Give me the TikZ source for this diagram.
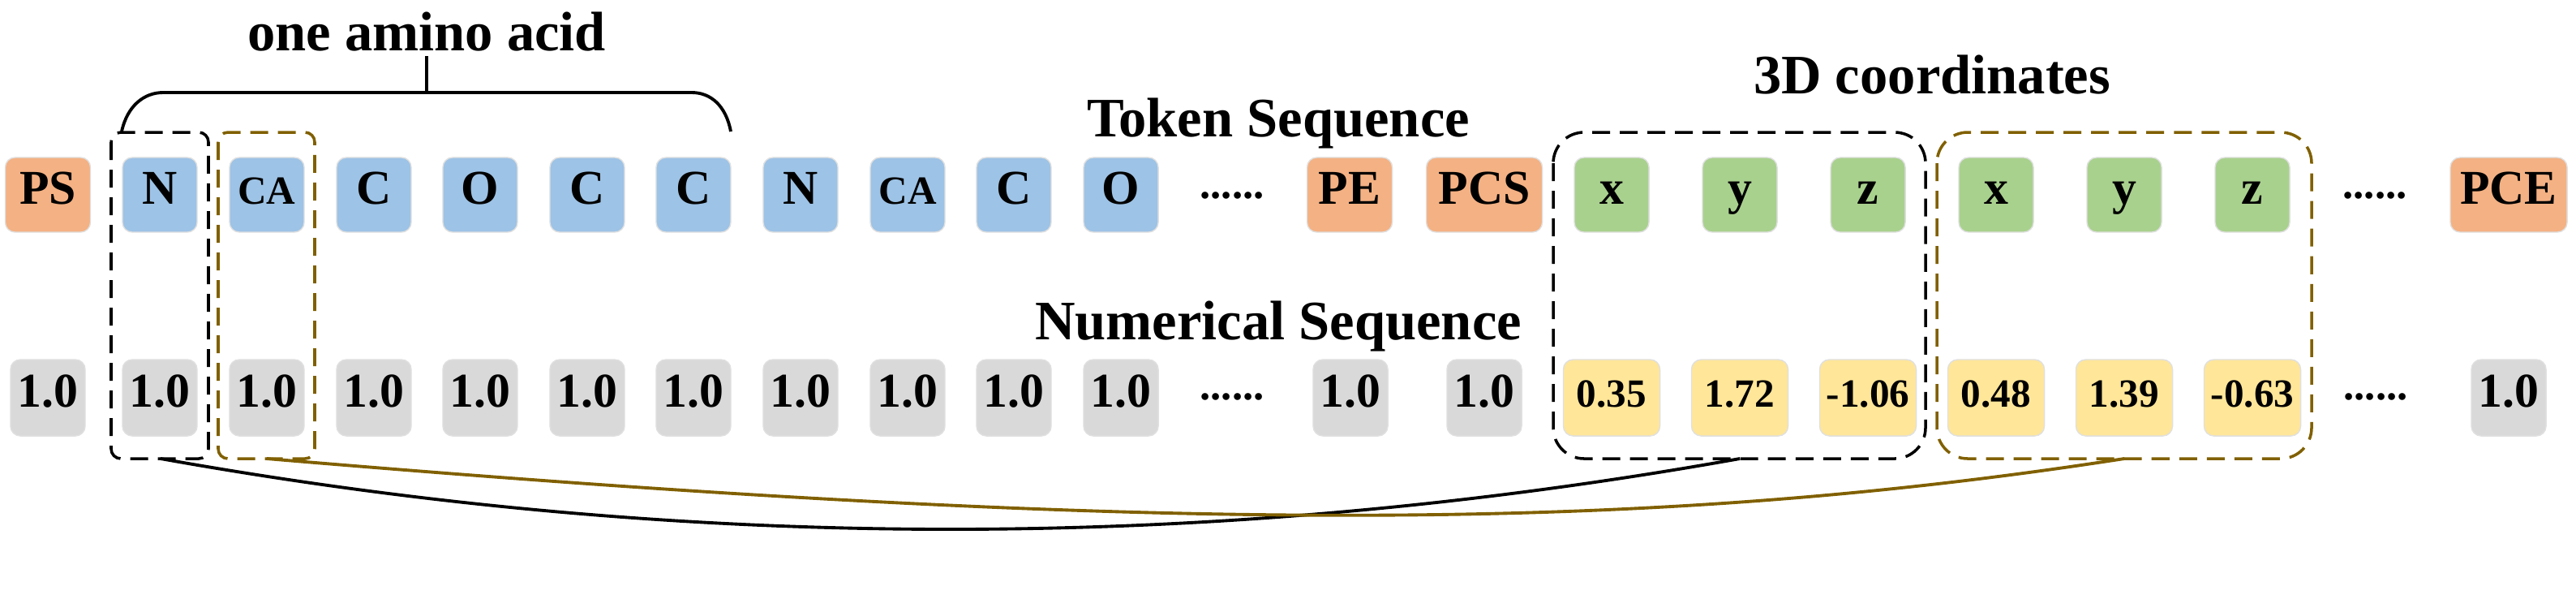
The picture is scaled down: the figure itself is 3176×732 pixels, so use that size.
\documentclass[tikz,border=0pt]{standalone}
\usepackage{fontspec}
\setmainfont{Liberation Serif}
\definecolor{tokorange}{HTML}{F4B183}
\definecolor{tokblue}{HTML}{9DC3E6}
\definecolor{tokgreen}{HTML}{A9D18E}
\definecolor{numgray}{HTML}{D9D9D9}
\definecolor{numyellow}{HTML}{FFE699}
\definecolor{groupbrown}{HTML}{806000}
\tikzset{
  tok/.style={rounded corners=0.12cm, draw=black!12, line width=0.4pt,
    minimum width=0.92cm, minimum height=0.92cm, inner sep=0pt,
    font=\fontsize{17}{17}\selectfont\bfseries, text height=0.66em, text depth=0pt},
  num/.style={tok, minimum height=0.94cm},
  smalltxt/.style={font=\fontsize{14}{14}\selectfont\bfseries},
  seqtitle/.style={anchor=base, inner sep=0pt, font=\fontsize{19.5}{19.5}\selectfont\bfseries},
  ellip/.style={anchor=base, inner sep=0pt, font=\fontsize{15}{15}\selectfont\bfseries},
  dashgroup/.style={line width=1pt, dash pattern=on 0.22cm off 0.12cm},
}

\begin{document}
\begin{tikzpicture}[x=0.01cm, y=-0.01cm]
\useasboundingbox (0,0) rectangle (3176,732);
% token row
\foreach \i/\x/\lab/\col/\w/\sty in {1/59/PS/tokorange/1.05/, 2/197/N/tokblue/0.92/,
    3/329/CA/tokblue/0.92/smalltxt, 4/461/C/tokblue/0.92/, 5/592/O/tokblue/0.92/,
    6/724/C/tokblue/0.92/, 7/855/C/tokblue/0.92/, 8/987/N/tokblue/0.92/,
    9/1119/CA/tokblue/0.92/smalltxt, 10/1250/C/tokblue/0.92/, 11/1382/O/tokblue/0.92/,
    12/1664/PE/tokorange/1.05/, 13/1830/PCS/tokorange/1.43/,
    14/1987/x/tokgreen/0.92/, 15/2145/y/tokgreen/0.92/, 16/2303/z/tokgreen/0.92/,
    17/2461/x/tokgreen/0.92/, 18/2619/y/tokgreen/0.92/, 19/2777/z/tokgreen/0.92/,
    20/3093/PCE/tokorange/1.44/}
  \node[tok, fill=\col, minimum width=\w cm, \sty] (t\i) at (\x,240) {\lab};
% numerical row
\foreach \i/\x/\lab/\col/\w/\sty in {1/59/1.0/numgray/0.92/, 2/197/1.0/numgray/0.92/,
    3/329/1.0/numgray/0.92/, 4/461/1.0/numgray/0.92/, 5/592/1.0/numgray/0.92/,
    6/724/1.0/numgray/0.92/, 7/855/1.0/numgray/0.92/, 8/987/1.0/numgray/0.92/,
    9/1119/1.0/numgray/0.92/, 10/1250/1.0/numgray/0.92/, 11/1382/1.0/numgray/0.92/,
    12/1665/1.0/numgray/0.92/, 13/1830/1.0/numgray/0.92/,
    14/1987/0.35/numyellow/1.19/smalltxt, 15/2145/1.72/numyellow/1.19/smalltxt,
    16/2303/-1.06/numyellow/1.19/smalltxt, 17/2461/0.48/numyellow/1.19/smalltxt,
    18/2619/1.39/numyellow/1.19/smalltxt, 19/2777/-0.63/numyellow/1.19/smalltxt,
    20/3093/1.0/numgray/0.92/}
  \node[num, fill=\col, minimum width=\w cm, \sty] (b\i) at (\x,490) {\lab};
% ellipses
\node[ellip] (tdots1) at (1519,244) {......};
\node[ellip] (tdots2) at (2928,244) {......};
\node[ellip] (bdots1) at (1519,492) {......};
\node[ellip] (bdots2) at (2929,492) {......};
% titles
\node[seqtitle] (tokseq) at (1576,168) {Token Sequence};
\node[seqtitle] (numseq) at (1576,418) {Numerical Sequence};
\node[seqtitle] (coords) at (2382,115) {3D coordinates};
\node[seqtitle] (acid) at (526,62) {one amino acid};
% brace over one amino acid
\coordinate (brace) at (526,114);
\draw[line width=1.1pt] (150,162) .. controls (157,130) and (178,114) .. (201,114)
  -- (853,114) .. controls (876,114) and (895,130) .. (901,162);
\draw[line width=1.1pt] (brace) -- ++(0,-45);
% dashed groups
\draw[dashgroup, rounded corners=0.12cm] (137,163) rectangle (257,565);
\draw[dashgroup, groupbrown, rounded corners=0.12cm] (269,163) rectangle (388,565);
\draw[dashgroup, rounded corners=0.38cm] (1915,163) rectangle (2374,565);
\draw[dashgroup, groupbrown, rounded corners=0.38cm] (2388,163) rectangle (2850,565);
% links
\coordinate (nbot) at (198,565);
\coordinate (cabot) at (329,565);
\coordinate (xyzbot) at (2145,565);
\coordinate (xyzbotb) at (2619,565);
\draw[line width=1.1pt] (nbot) .. controls (847,681) and (1496,681) .. (xyzbot);
\draw[line width=1.1pt, groupbrown] (cabot) .. controls (1429,658) and (2019,658) .. (xyzbotb);
\end{tikzpicture}
\end{document}
